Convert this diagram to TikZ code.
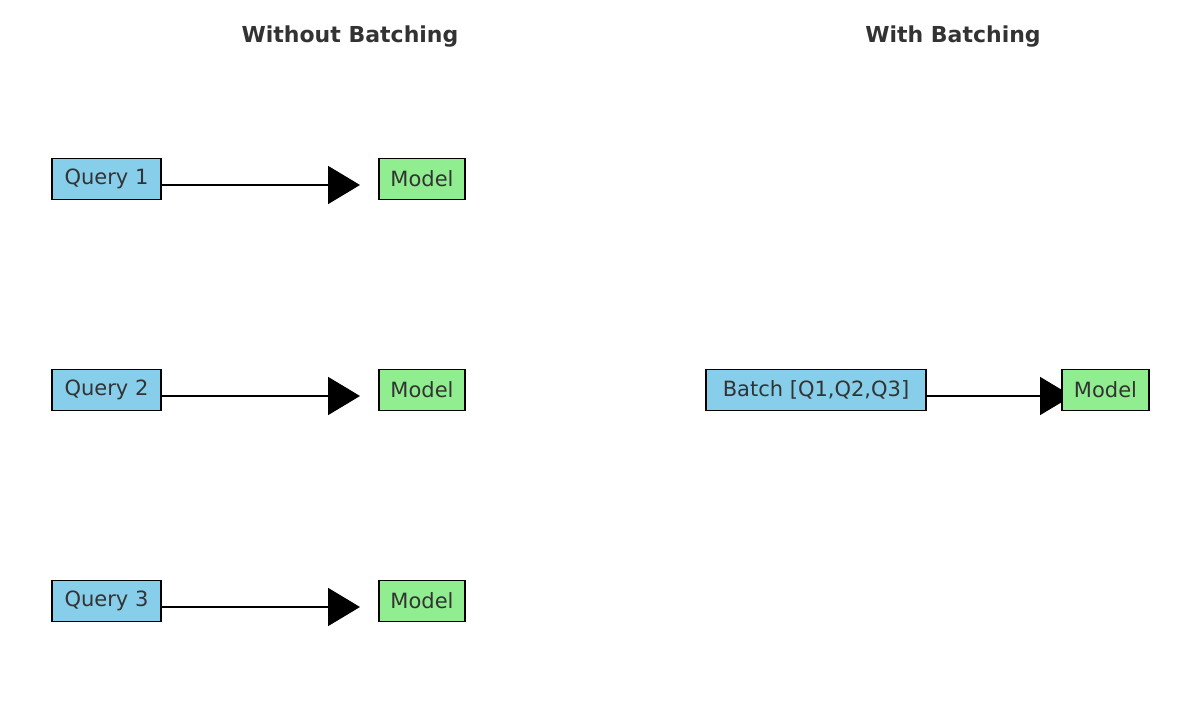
\documentclass[tikz,border=0pt]{standalone}
\usepackage{fontspec}
\setmainfont{DejaVu Sans}
\usetikzlibrary{arrows.meta}
\definecolor{qblue}{HTML}{87CEEB}
\definecolor{mgreen}{HTML}{90EE90}
\definecolor{txt}{HTML}{333333}
\begin{document}
\begin{tikzpicture}[x=0.5pt,y=-0.5pt,
  box/.style={draw=black,line width=0.8pt,inner sep=0pt,minimum height=20.5pt,font=\fontsize{10.5}{12}\selectfont,text=txt,anchor=center},
  q/.style={box,fill=qblue},
  m/.style={box,fill=mgreen},
  arr/.style={line width=1pt,-{Triangle[length=16pt,width=19pt]}},
  title/.style={font=\bfseries\fontsize{11}{13}\selectfont,text=txt}]
\useasboundingbox (0,0) rectangle (1200,711);
\node[title] (t1) at (350,37) {Without Batching};
\node[title] (t2) at (953,37) {With Batching};
\foreach \i/\y in {1/179,2/390,3/601}{
  \node[q,minimum width=54.5pt] (q\i) at (106.5,\y) {Query \i};
  \node[m,minimum width=43pt] (m\i) at (422,\y) {Model};
  \coordinate (tip\i) at (360,\y+6);
  \draw[arr] (161,\y+6) coordinate (s\i) -- (tip\i);
}
\node[q,minimum width=110pt] (b) at (816,390) {Batch [Q1,Q2,Q3]};
\node[m,minimum width=43.5pt] (mb) at (1105.5,390) {Model};
\coordinate (tipb) at (1072,396);
\draw[arr] (926,396) coordinate (sb) -- (tipb);
\node[m,minimum width=43.5pt] at (1105.5,390) {Model};
\end{tikzpicture}
\end{document}
